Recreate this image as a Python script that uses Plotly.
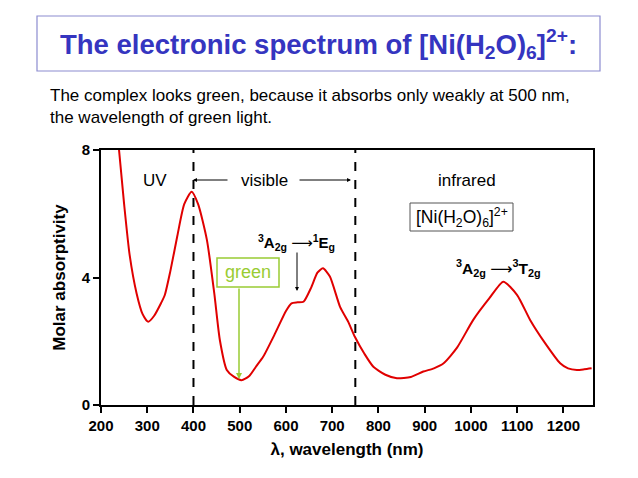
import plotly.graph_objects as go

# Data
wavelength_nm = [239, 250, 262, 277, 290, 302, 315, 330, 338, 350, 365, 380, 396, 410, 429, 445, 457, 472, 488, 504, 520, 535, 551, 575, 600, 612, 625, 638, 655, 668, 680, 695, 717, 735, 749, 770, 789, 815, 840, 870, 897, 920, 941, 970, 1005, 1040, 1070, 1100, 1128, 1160, 1193, 1210, 1229, 1245, 1261]
absorptivity = [8.0, 6.3, 4.7, 3.5, 2.85, 2.61, 2.8, 3.2, 3.45, 4.2, 5.3, 6.3, 6.69, 6.3, 5.18, 3.5, 2.04, 1.1, 0.88, 0.78, 0.9, 1.2, 1.52, 2.2, 2.95, 3.19, 3.22, 3.24, 3.7, 4.15, 4.29, 4.03, 3.08, 2.6, 2.14, 1.6, 1.2, 0.95, 0.84, 0.88, 1.05, 1.15, 1.31, 1.8, 2.67, 3.35, 3.87, 3.45, 2.67, 1.95, 1.31, 1.15, 1.1, 1.12, 1.15]

x_ticks = [200, 300, 400, 500, 600, 700, 800, 900, 1000, 1100, 1200]
y_ticks = [0, 4, 8]
region_bounds = [400, 750]

FONT = "Arial, Liberation Sans, sans-serif"
W, H = 638, 478
L, R, T, B = 101, 593, 150, 405

def px(xp):
    return (xp - L) / (R - L)

def py(yp):
    return (B - yp) / (B - T)

def label(xp, yp, text, size=15, color="black", bold=False, xanchor="center"):
    f = dict(family=FONT, size=size, color=color)
    if bold:
        f["weight"] = "bold"
    return dict(xref="paper", yref="paper", x=px(xp), y=py(yp), xanchor=xanchor, yanchor="middle",
                showarrow=False, text=text, font=f, align="left")

def arrow(x_head, y_head, x_tail, y_tail, color="black", width=1):
    return dict(xref="paper", yref="paper", x=px(x_head), y=py(y_head),
                ax=x_tail - x_head, ay=y_tail - y_head, showarrow=True,
                arrowhead=2, arrowsize=0.8, arrowwidth=width, arrowcolor=color, text="")

ARROW = "<span style='font-family:DejaVu Sans;font-weight:normal'>⟶</span>"

fig = go.Figure()
fig.add_trace(go.Scatter(x=wavelength_nm, y=absorptivity, mode="lines",
                         line=dict(color="#e00000", width=2, shape="spline", smoothing=0.6),
                         hoverinfo="skip", showlegend=False))

shapes = []
for b in region_bounds:
    shapes.append(dict(type="line", xref="x", yref="y", x0=b, x1=b, y0=0, y1=8,
                       line=dict(color="black", width=2, dash="dash")))
# title box
shapes.append(dict(type="rect", xref="paper", yref="paper", x0=px(37), x1=px(600), y0=py(71), y1=py(16),
                   line=dict(color="#8c8cd0", width=1.2)))
# formula box
shapes.append(dict(type="rect", xref="paper", yref="paper", x0=px(410), x1=px(513), y0=py(231), y1=py(203),
                   line=dict(color="#555555", width=1)))
# green box
shapes.append(dict(type="rect", xref="paper", yref="paper", x0=px(217), x1=px(279), y0=py(287), y1=py(258),
                   line=dict(color="#99cc33", width=1.5)))

ann = []
ann.append(label(318, 44, "The electronic spectrum of [Ni(H<sub>2</sub>O)<sub>6</sub>]<sup>2+</sup>:",
                 size=27.5, color="#3535c0", bold=True))
ann.append(label(48, 107, "The complex looks green, because it absorbs only weakly at 500 nm,<br>the wavelength of green light.",
                 size=17, xanchor="left"))
ann.append(label(155, 180, "UV", size=17))
ann.append(label(264, 180, "visible", size=17))
ann.append(label(467, 180, "infrared", size=17))
ann.append(arrow(193, 180, 229, 180))
ann.append(arrow(351, 180, 298, 180))
ann.append(label(462, 217, "[Ni(H<sub>2</sub>O)<sub>6</sub>]<sup>2+</sup>", size=17.5))
ann.append(label(296, 242, "<sup>3</sup>A<sub>2g</sub> " + ARROW + "<sup>1</sup>E<sub>g</sub>", size=15, bold=True))
ann.append(arrow(297, 291, 297, 251))
ann.append(label(498, 268, "<sup>3</sup>A<sub>2g</sub> " + ARROW + "<sup>3</sup>T<sub>2g</sub>", size=15.5, bold=True))
ann.append(label(248, 272, "green", size=18, color="#99cc33"))
ann.append(arrow(239, 379, 239, 287, color="#99cc33", width=1.5))

fig.update_layout(
    width=W, height=H,
    margin=dict(l=L, r=W - R, t=T, b=H - B),
    paper_bgcolor="white", plot_bgcolor="white",
    shapes=shapes, annotations=ann,
    font=dict(family=FONT, color="black"),
    xaxis=dict(range=[200, 1264], tickvals=x_ticks, ticks="outside", ticklen=6, tickwidth=2,
               tickcolor="black", showline=True, linewidth=2, linecolor="black", mirror=True,
               showgrid=False, zeroline=False,
               tickfont=dict(family=FONT, size=15, color="black", weight="bold"),
               title=dict(text="λ, wavelength (nm)", standoff=10,
                          font=dict(family=FONT, size=17, color="black", weight="bold"))),
    yaxis=dict(range=[0, 8], tickvals=y_ticks, ticks="outside", ticklen=6, tickwidth=2,
               tickcolor="black", showline=True, linewidth=2, linecolor="black", mirror=True,
               showgrid=False, zeroline=False,
               tickfont=dict(family=FONT, size=15, color="black", weight="bold"),
               title=dict(text="Molar absorptivity", standoff=12,
                          font=dict(family=FONT, size=17, color="black", weight="bold"))),
)

fig.write_html("out.html")
